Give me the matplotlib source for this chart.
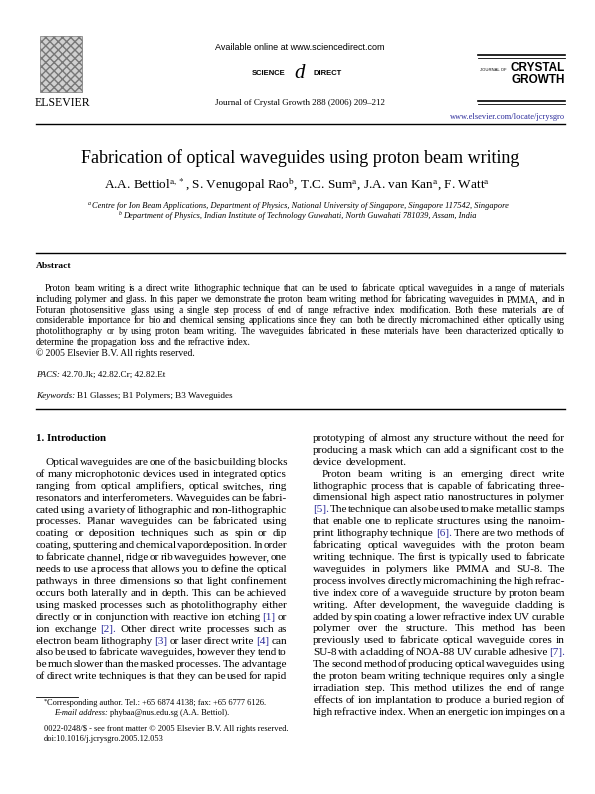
import matplotlib
matplotlib.use("Agg")
import matplotlib.pyplot as plt
from matplotlib.patches import Rectangle

W, H = 595, 794
SERIF = ["Liberation Serif", "DejaVu Serif"]
SANS = ["Liberation Sans", "DejaVu Sans"]
BLUE = "#2a2a9a"

header_top = "Available online at www.sciencedirect.com"
journal_ref = "Journal of Crystal Growth 288 (2006) 209–212"
journal_url = "www.elsevier.com/locate/jcrysgro"
title = "Fabrication of optical waveguides using proton beam writing"
affil_a = "Centre for Ion Beam Applications, Department of Physics, National University of Singapore, Singapore 117542, Singapore"
affil_b = "Department of Physics, Indian Institute of Technology Guwahati, North Guwahati 781039, Assam, India"

abstract_lines = [
    "Proton beam writing is a direct write lithographic technique that can be used to fabricate optical waveguides in a range of materials",
    "including polymer and glass. In this paper we demonstrate the proton beam writing method for fabricating waveguides in PMMA, and in",
    "Foturan photosensitive glass using a single step process of end of range refractive index modification. Both these materials are of",
    "considerable importance for bio and chemical sensing applications since they can both be directly micromachined either optically using",
    "photolithography or by using proton beam writing. The waveguides fabricated in these materials have been characterized optically to",
    "determine the propagation loss and the refractive index.",
]
left_lines = [
    "Optical waveguides are one of the basic building blocks",
    "of many microphotonic devices used in integrated optics",
    "ranging from optical amplifiers, optical switches, ring",
    "resonators and interferometers. Waveguides can be fabri-",
    "cated using a variety of lithographic and non-lithographic",
    "processes. Planar waveguides can be fabricated using",
    "coating or deposition techniques such as spin or dip",
    "coating, sputtering and chemical vapor deposition. In order",
    "to fabricate channel, ridge or rib waveguides however, one",
    "needs to use a process that allows you to define the optical",
    "pathways in three dimensions so that light confinement",
    "occurs both laterally and in depth. This can be achieved",
    "using masked processes such as photolithography either",
    "directly or in conjunction with reactive ion etching [1] or",
    "ion exchange [2]. Other direct write processes such as",
    "electron beam lithography [3] or laser direct write [4] can",
    "also be used to fabricate waveguides, however they tend to",
    "be much slower than the masked processes. The advantage",
    "of direct write techniques is that they can be used for rapid",
]
right_lines = [
    "prototyping of almost any structure without the need for",
    "producing a mask which can add a significant cost to the",
    "device development.",
    "Proton beam writing is an emerging direct write",
    "lithographic process that is capable of fabricating three-",
    "dimensional high aspect ratio nanostructures in polymer",
    "[5]. The technique can also be used to make metallic stamps",
    "that enable one to replicate structures using the nanoim-",
    "print lithography technique [6]. There are two methods of",
    "fabricating optical waveguides with the proton beam",
    "writing technique. The first is typically used to fabricate",
    "waveguides in polymers like PMMA and SU-8. The",
    "process involves directly micromachining the high refrac-",
    "tive index core of a waveguide structure by proton beam",
    "writing. After development, the waveguide cladding is",
    "added by spin coating a lower refractive index UV curable",
    "polymer over the structure. This method has been",
    "previously used to fabricate optical waveguide cores in",
    "SU-8 with a cladding of NOA-88 UV curable adhesive [7].",
    "The second method of producing optical waveguides using",
    "the proton beam writing technique requires only a single",
    "irradiation step. This method utilizes the end of range",
    "effects of ion implantation to produce a buried region of",
    "high refractive index. When an energetic ion impinges on a",
]
left_indent = [0]
left_last = []
right_indent = [3]
right_last = [2]
abstract_indent = [0]
abstract_last = [5]

fig = plt.figure(figsize=(W / 100, H / 100), dpi=100)
fig.patch.set_facecolor("white")
renderer = fig.canvas.get_renderer()


def Y(y):
    return 1 - y / H


def X(x):
    return x / W


def txt(x, y, s, size, ha="left", style="normal", weight="normal", color="black", family=SERIF):
    return fig.text(X(x), Y(y), s, fontsize=size, ha=ha, va="baseline", style=style,
                    weight=weight, color=color, family=family)


def width(a):
    return a.get_window_extent(renderer).width


def hline(y, x0, x1, lw=0.8):
    fig.add_artist(plt.Line2D([X(x0), X(x1)], [Y(y), Y(y)], color="black", lw=lw))


def justify(lines, x0, x1, y0, dy, size, indents, lasts, indent_px=10):
    t1 = txt(0, 0, "a a", size)
    t2 = txt(0, 0, "aa", size)
    spw = width(t1) - width(t2)
    t1.remove()
    t2.remove()
    for i, line in enumerate(lines):
        y = y0 + i * dy
        xs = x0 + (indent_px if i in indents else 0)
        words = line.split(" ")
        arts = [txt(xs, y, w, size, color=BLUE if "[" in w else "black") for w in words]
        widths = [width(a) for a in arts]
        if i in lasts or len(words) == 1:
            gap = spw
        else:
            gap = (x1 - xs - sum(widths)) / (len(words) - 1)
        cx = xs
        for a, w in zip(arts, widths):
            a.set_x(X(cx))
            cx += w + gap


def seq(x, y, parts, size):
    cx = x
    for s, style, off, sc in parts:
        a = txt(cx, y - off, s, size * sc, style=style)
        cx += width(a)


# header
fig.add_artist(Rectangle((X(40), Y(92)), X(42), 56 / H, facecolor="#d0d0d0", edgecolor="#777777",
                         hatch="xxxx", lw=0.5))
txt(62, 106, "ELSEVIER", 8.5, ha="center")
txt(300, 50, header_top, 6.5, ha="center", family=SANS)
txt(286, 75, "SCIENCE", 5.5, ha="right", weight="bold", family=SANS)
txt(300, 78, "d", 15, ha="center", style="italic")
txt(313, 75, "DIRECT", 5.5, ha="left", weight="bold", family=SANS)
txt(300, 105, journal_ref, 6.5, ha="center")
hline(55, 478, 565, 1.2)
hline(57.5, 478, 565, 0.6)
txt(507, 71, "JOURNAL OF", 3.0, ha="right", family=SANS)
txt(565, 71, "CRYSTAL", 8.5, ha="right", weight="bold", family=SANS)
txt(565, 83, "GROWTH", 8.5, ha="right", weight="bold", family=SANS)
hline(101, 478, 565, 1.2)
hline(103.5, 478, 565, 0.6)
txt(565, 119, journal_url, 6, ha="right", color="#2a2a9a")
hline(124, 36, 565, 1.0)

# title block
txt(300, 163, title, 13, ha="center")
fig.text(0.5, Y(189),
         r"A.A. Bettiol$^{\mathrm{a,*}}$, S. Venugopal Rao$^{\mathrm{b}}$, T.C. Sum$^{\mathrm{a}}$, "
         r"J.A. van Kan$^{\mathrm{a}}$, F. Watt$^{\mathrm{a}}$",
         fontsize=9.5, ha="center", va="baseline", family=SERIF, math_fontfamily="stix")
a1 = txt(300, 208, affil_a, 6.0, ha="center", style="italic")
txt(300 - width(a1) / 2 - 1, 205, "a", 4.2, ha="right", style="italic")
a2 = txt(300, 218, affil_b, 6.0, ha="center", style="italic")
txt(300 - width(a2) / 2 - 1, 215, "b", 4.2, ha="right", style="italic")

hline(253, 36, 565, 1.0)
txt(36, 268, "Abstract", 6.8, weight="bold")
justify(abstract_lines, 36, 565, 291, 10.8, 6.9, abstract_indent, abstract_last, indent_px=9)
txt(36, 291 + 6 * 10.8, "© 2005 Elsevier B.V. All rights reserved.", 6.9)
seq(36, 377, [("PACS: ", "italic", 0, 1), ("42.70.Jk; 42.82.Cr; 42.82.Et", "normal", 0, 1)], 6.6)
seq(36, 398, [("Keywords: ", "italic", 0, 1), ("B1 Glasses; B1 Polymers; B3 Waveguides", "normal", 0, 1)], 6.6)
hline(409, 36, 565, 1.0)

# body
txt(36, 441, "1. Introduction", 7.8, weight="bold")
justify(left_lines, 36, 287, 465, 11.9, 8.1, left_indent, left_last, indent_px=9)
justify(right_lines, 313, 565, 441, 11.9, 8.1, right_indent, right_last, indent_px=9)

# footnotes
hline(697, 36, 78, 0.6)
seq(44, 705, [("*", "normal", 2, 0.8), ("Corresponding author. Tel.: +65 6874 4138; fax: +65 6777 6126.", "normal", 0, 1)], 6.0)
seq(54, 715, [("E-mail address: ", "italic", 0, 1), ("phybaa@nus.edu.sg (A.A. Bettiol).", "normal", 0, 1)], 6.0)
txt(44, 731, "0022-0248/$ - see front matter © 2005 Elsevier B.V. All rights reserved.", 6.0)
txt(44, 741, "doi:10.1016/j.jcrysgro.2005.12.053", 6.0)

fig.savefig("out.png", dpi=100, facecolor="white")
